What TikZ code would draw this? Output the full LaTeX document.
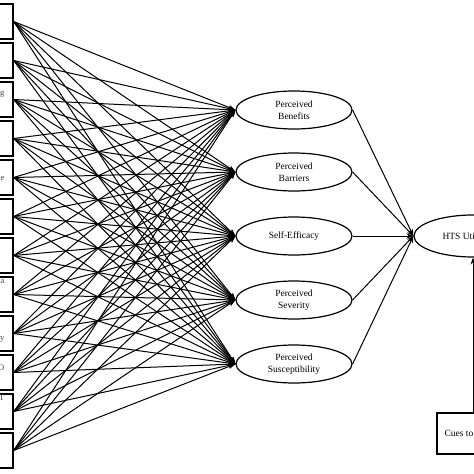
\documentclass[tikz,border=0pt]{standalone}
\usepackage{fontspec}
\setmainfont{Liberation Serif}
\usetikzlibrary{arrows.meta,shapes.geometric}
\begin{document}
\begin{tikzpicture}[x=1pt,y=-1pt,
  srcbox/.style={draw, line width=1.3pt, minimum width=86pt, minimum height=35pt, inner sep=0pt},
  construct/.style={draw, ellipse, line width=1.2pt, minimum width=116pt, minimum height=38pt, inner sep=0pt, align=center, font=\fontsize{9.5}{11.5}\selectfont},
  frag/.style={anchor=east, inner sep=0pt, text=black!75, font=\fontsize{8.5}{9}\selectfont},
  link/.style={line width=1pt, -{Stealth[length=7pt,width=5pt]}}]
\useasboundingbox (0,0) rectangle (474,474);
\clip (0,0) rectangle (474,474);
% source boxes (cut off at the left edge)
\foreach \i in {1,...,12} {
  \node[srcbox] (b\i) at (-30, {21.5+39*(\i-1)}) {};
}
% visible fragments of the cut-off texts
\node[frag] (f3) at (4.5,94) {g};
\node[frag] (f5) at (4.5,179) {e};
\node[frag] (f8) at (4.5,282) {a};
\node[frag] (f9) at (4.5,339) {y};
\node[frag] (f10) at (4.5,368) {O};
\node[frag] (f11) at (4.5,398) {T};
% constructs
\node[construct] (pb)  at (294,110) {Perceived\\Benefits};
\node[construct] (pba) at (294,172) {Perceived\\Barriers};
\node[construct] (se)  at (294,236) {Self-Efficacy};
\node[construct] (psv) at (294,300) {Perceived\\Severity};
\node[construct] (psc) at (294,364) {Perceived\\Susceptibility};
% outcome
\node[construct, minimum width=118pt, minimum height=42pt] (hts) at (473,236) {HTS Utilization};
\node[srcbox, minimum width=72pt, minimum height=41pt, font=\fontsize{9.5}{11.5}\selectfont] (cues) at (473,433.5) {Cues to Action};
% connectors
\foreach \i in {1,...,12} {
  \foreach \j in {pb,pba,se,psv,psc} {
    \draw[link] (b\i.east) -- (\j.west);
  }
}
\foreach \j in {pb,pba,se,psv,psc} {
  \draw[link] (\j.east) -- (hts.west);
}
\draw[link] (cues.north) -- (hts.south);
\end{tikzpicture}
\end{document}
